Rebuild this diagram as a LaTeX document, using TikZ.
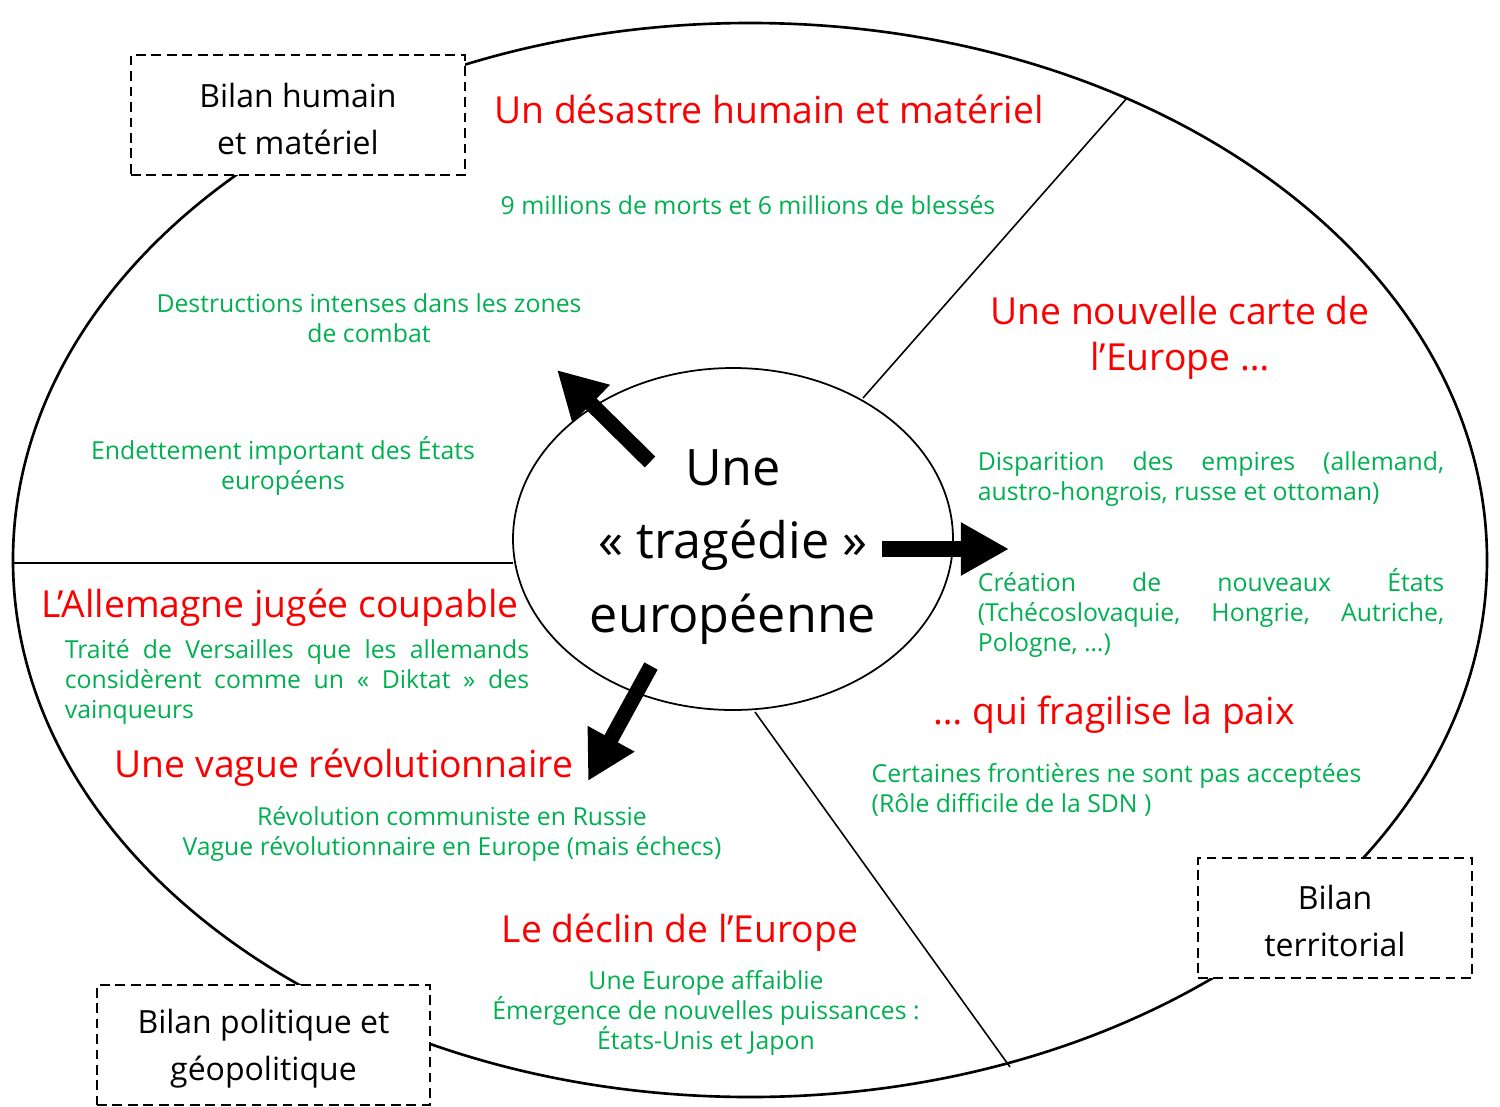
\documentclass[tikz,border=0pt]{standalone}
\usepackage{fontspec}
\setmainfont{Open Sans}
\usetikzlibrary{arrows.meta}
\definecolor{rouge}{RGB}{250,0,0}
\definecolor{vert}{RGB}{0,176,80}
\tikzset{
  gtxt/.style={text=vert, inner sep=0pt, font=\fontsize{7.05}{8.54}\selectfont},
  rtxt/.style={text=rouge, inner sep=0pt, font=\fontsize{10.6}{12.8}\selectfont},
  ctxt/.style={text=black, inner sep=0pt, align=center, font=\fontsize{14.3}{20.8}\selectfont},
  bilan/.style={draw=black, fill=white, line width=0.7pt, dash pattern=on 2.8pt off 1.6pt,
     inner sep=0pt, minimum height=1.2cm},
  btxt/.style={inner sep=0pt, align=center, font=\fontsize{9.1}{13.4}\selectfont},
  divider/.style={line width=0.45pt},
  bigarrow/.style={line width=4.3pt, -{Triangle[width=14.2pt, length=13.7pt]}}
}
\begin{document}
\begin{tikzpicture}[x=0.01cm, y=-0.01cm]
\useasboundingbox (0,0) rectangle (1500,1106);
% outer and inner ellipses
\draw[line width=0.75pt] (750,560) ellipse [x radius=737, y radius=537];
\draw[line width=0.5pt] (733,539) ellipse [x radius=220, y radius=171];
% dividers
\coordinate (hl1) at (13,563);
\coordinate (hl2) at (513,563);
\coordinate (tr1) at (863,398);
\coordinate (tr2) at (1127,98);
\coordinate (br1) at (755,712);
\coordinate (br2) at (1010,1067);
\draw[divider] (hl1) -- (hl2);
\draw[divider] (tr1) -- (tr2);
\draw[divider] (br1) -- (br2);
% arrows
\coordinate (a1s) at (650,462);
\coordinate (a1e) at (557,370);
\coordinate (a2s) at (882,549);
\coordinate (a2e) at (1009,549);
\coordinate (a3s) at (651,666);
\coordinate (a3e) at (588,781);
\draw[bigarrow] (a1s) -- (a1e);
\draw[bigarrow] (a2s) -- (a2e);
\draw[bigarrow] (a3s) -- (a3e);
% boxes
\node[bilan, minimum width=3.34cm] (b1) at (298,115) {};
\node[btxt] (b1t) at (298,119) {Bilan humain\\et matériel};
\node[bilan, minimum width=2.74cm] (b2) at (1335,918) {};
\node[btxt] (b2t) at (1335,921) {Bilan\\territorial};
\node[bilan, minimum width=3.33cm] (b3) at (263.5,1045) {};
\node[btxt] (b3t) at (263.5,1049) {Bilan politique et\\géopolitique};
% centre
\node[ctxt] (centre) at (733,547) {Une\\« tragédie »\\européenne};
% top section
\node[rtxt] (r1) at (769,109) {Un désastre humain et matériel};
\node[gtxt] (g1) at (748,205) {9 millions de morts et 6 millions de blessés};
\node[gtxt, align=center] (g2) at (369,318) {Destructions intenses dans les zones\\de combat};
\node[gtxt, align=center] (g3) at (283,466) {Endettement important des États\\européens};
% right section
\node[rtxt, align=center, font=\fontsize{10.6}{13.2}\selectfont] (r2) at (1180,338) {Une nouvelle carte de\\l’Europe …};
\node[gtxt, align=left] (g4) at (1211,479) {\makebox[4.66cm][s]{Disparition des empires (allemand,}\\austro-hongrois, russe et ottoman)};
\node[gtxt, align=left] (g5) at (1211,613) {\makebox[4.66cm][s]{Création de nouveaux États}\\\makebox[4.66cm][s]{(Tchécoslovaquie, Hongrie, Autriche,}\\Pologne, …)};
\node[rtxt] (r3) at (1114,715) {… qui fragilise la paix};
\node[gtxt, align=left, anchor=west] (g6) at (871,790) {Certaines frontières ne sont pas acceptées\\(Rôle difficile de la SDN )};
% left lower section
\node[rtxt] (r4) at (280,608) {L’Allemagne jugée coupable};
\node[gtxt, align=left] (g7) at (297,682) {\makebox[4.64cm][s]{Traité de Versailles que les allemands}\\\makebox[4.64cm][s]{considèrent comme un « Diktat » des}\\vainqueurs};
\node[rtxt] (r5) at (344,768) {Une vague révolutionnaire};
\node[gtxt, align=center] (g8) at (452,834) {Révolution communiste en Russie\\Vague révolutionnaire en Europe (mais échecs)};
\node[rtxt] (r6) at (680,933) {Le déclin de l’Europe};
\node[gtxt, align=center] (g9) at (706,1013) {Une Europe affaiblie\\Émergence de nouvelles puissances :\\États-Unis et Japon};
\end{tikzpicture}
\end{document}
